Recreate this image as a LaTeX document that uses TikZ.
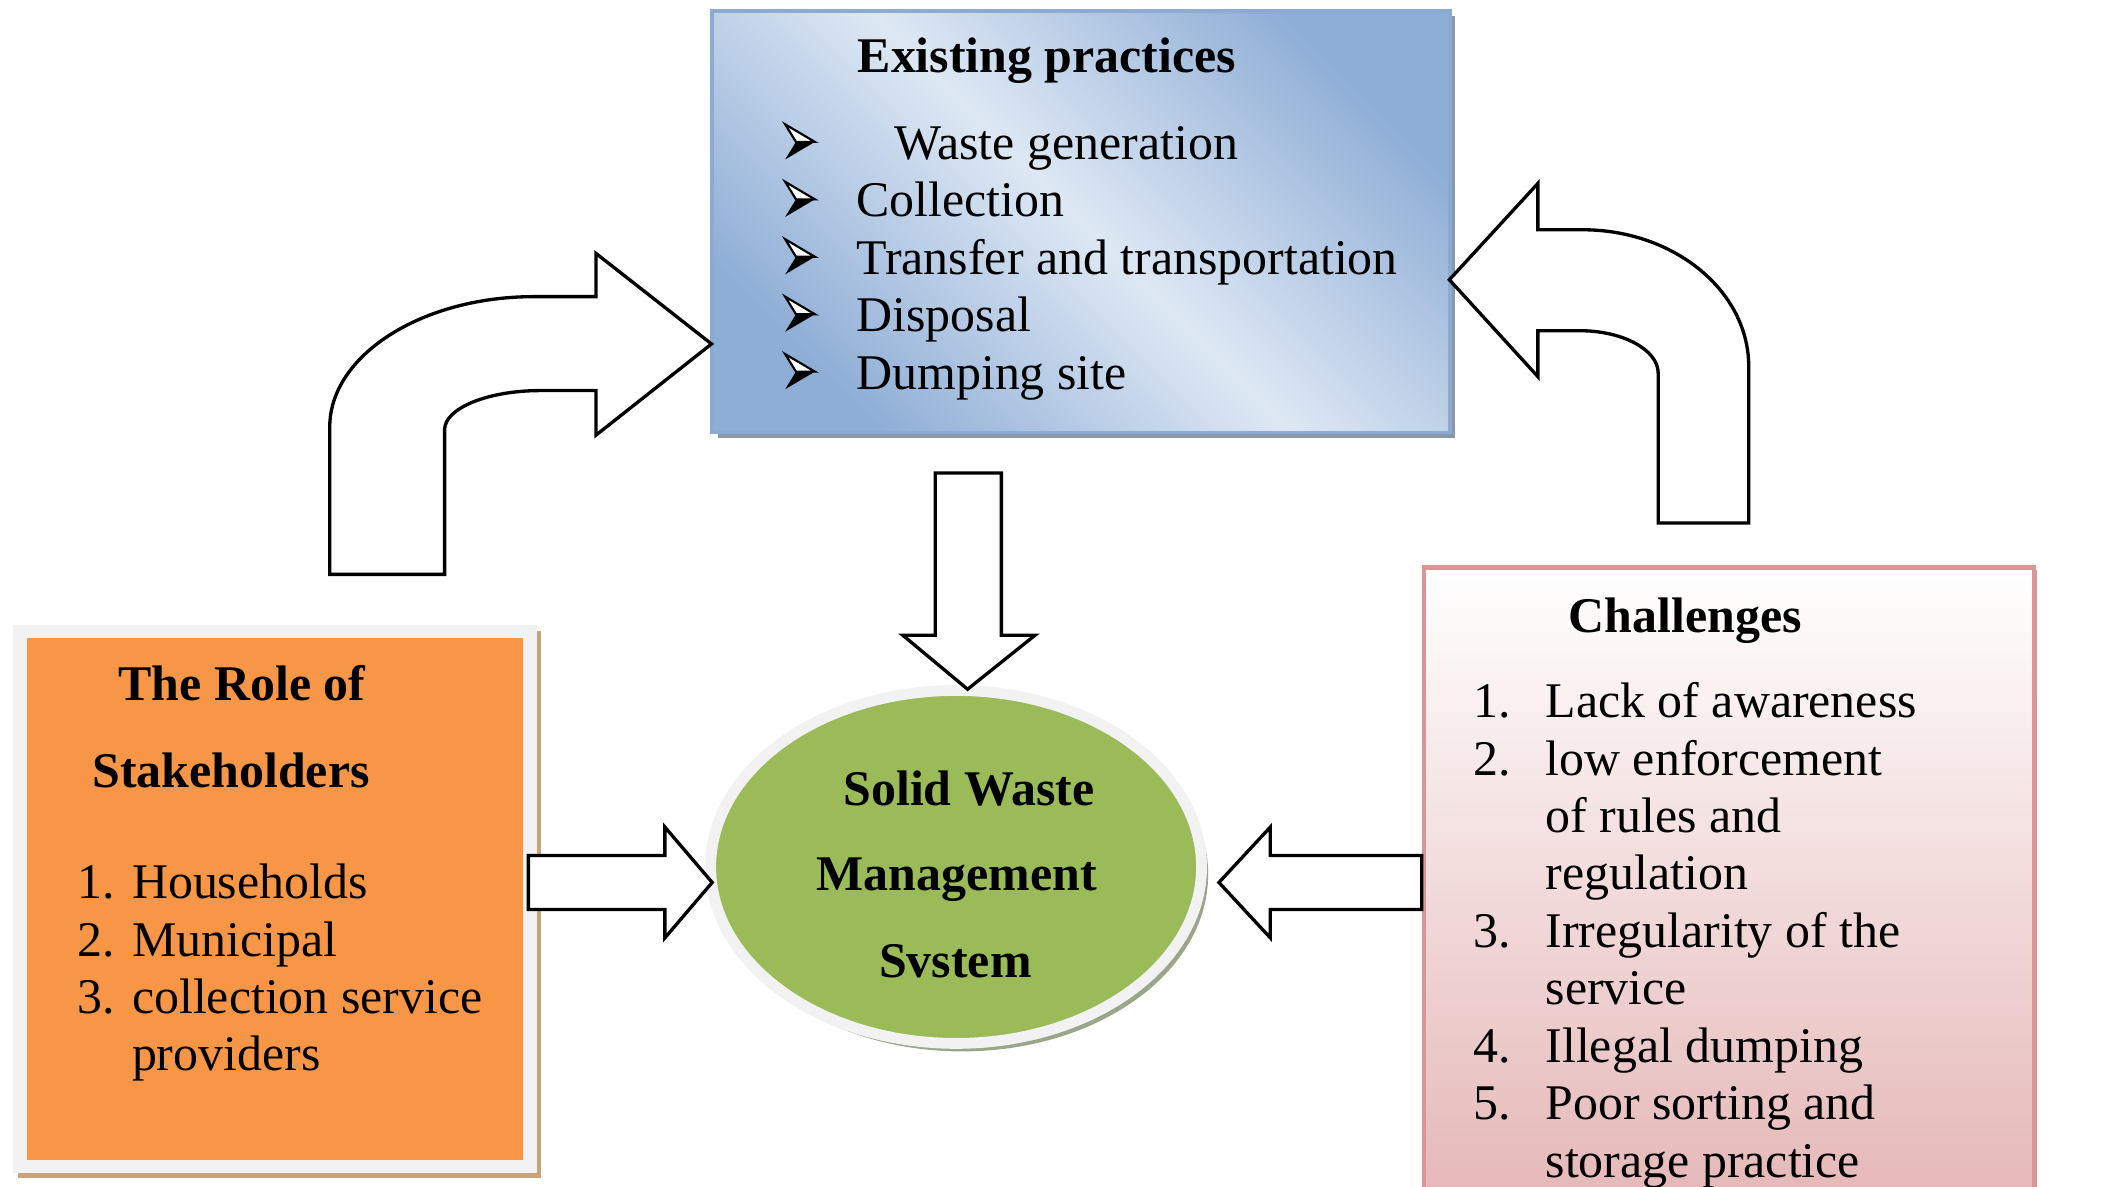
\documentclass[tikz,border=0pt]{standalone}
\usepackage{fontspec}
\setmainfont{Liberation Serif}
\usepackage{tikz}
\usetikzlibrary{shapes.geometric, positioning, calc}
\definecolor{exlight}{RGB}{222,232,244}
\definecolor{exdark}{RGB}{143,174,214}
\definecolor{exborder}{RGB}{140,170,210}
\definecolor{exshadow}{RGB}{140,152,170}
\definecolor{storange}{RGB}{247,150,70}
\definecolor{stframe}{RGB}{242,242,242}
\definecolor{stshadow}{RGB}{201,162,126}
\definecolor{chpink}{RGB}{229,182,182}
\definecolor{chborder}{RGB}{217,150,148}
\definecolor{chshadow}{RGB}{200,160,160}
\definecolor{swgreen}{RGB}{155,187,89}
\definecolor{swrim}{RGB}{242,242,242}
\definecolor{swshadow}{RGB}{154,165,138}
\tikzset{
  txt/.style={font=\fontsize{10.5}{12}\selectfont, inner sep=0pt, anchor=base west},
  ttl/.style={txt, font=\fontsize{10.5}{12}\selectfont\bfseries},
  exbox/.style={rectangle, draw=exborder, line width=0.8pt, inner sep=0pt,
    left color=exdark, right color=exdark, middle color=exlight, shading angle=135},
  stbox/.style={rectangle, fill=storange, draw=stframe, line width=0.1cm, inner sep=0pt},
  chbox/.style={rectangle, draw=chborder, line width=1pt, inner sep=0pt,
    top color=white, bottom color=chpink},
  swell/.style={ellipse, fill=swgreen, draw=swrim, line width=0.08cm, inner sep=0pt},
  blkarrow/.style={draw=black, fill=white, line width=0.7pt, line join=miter},
  bulup/.style={draw=black, fill=white, line width=0.45pt, line join=miter},
  buldown/.style={fill=black}
}
\begin{document}
\begin{tikzpicture}[x=0.01cm, y=-0.01cm]
  \useasboundingbox (0,0) rectangle (1568,878);
  \fill[white] (0,0) rectangle (1568,878);
  \clip (0,0) rectangle (1568,878);

  % existing practices
  \fill[exshadow] (531,12) rectangle (1077,324);
  \node[exbox, minimum width=5.46cm, minimum height=3.12cm] (exist) at (800,164) {};
  \node[ttl] (exist-t) at (634,54) {Existing practices};
  \foreach \dx/\t [count=\i from 0] in {28/Waste generation, 0/Collection,
      0/Transfer and transportation, 0/Disposal, 0/Dumping site} {
    \coordinate (exb-\i) at (581,118+42.5*\i);
    \draw[bulup] ($(exb-\i)+(0,-26)$) -- ++(22,13) -- ++(-14,0) -- cycle;
    \fill[buldown] ($(exb-\i)+(8,-13)$) -- ++(14,0) -- ++(-22,13) -- cycle;
    \node[txt] (exi-\i) at (633+\dx,118+42.5*\i) {\t};
  }

  % stakeholders
  \fill[stshadow] (13,467) rectangle (400,872);
  \node[stbox, minimum width=3.77cm, minimum height=3.955cm] (stake) at (203.5,665.3) {};
  \node[ttl, anchor=base] (stake-t1) at (179,518) {The Role of};
  \node[ttl, anchor=base] (stake-t2) at (171,583) {Stakeholders};
  \foreach \n/\t [count=\i from 0] in {1./Households, 2./Municipal,
      3./collection service, /providers} {
    \node[txt] (stn-\i) at (57,665+42.5*\i) {\n};
    \node[txt] (sti-\i) at (97,665+42.5*\i) {\t};
  }

  % challenges
  \fill[chshadow] (1056,422) rectangle (1507,900);
  \node[chbox, minimum width=4.51cm, minimum height=4.8cm, anchor=north west] (chall) at (1052,418) {};
  \node[ttl, anchor=base] (chall-t) at (1247,468) {Challenges};
  \foreach \n/\t [count=\i from 0] in {1./Lack of awareness, 2./low enforcement,
      /of rules and, /regulation, 3./Irregularity of the, /service,
      4./Illegal dumping, 5./Poor sorting and, /storage practice} {
    \node[txt] (chn-\i) at (1090,531+42.5*\i) {\n};
    \node[txt] (chi-\i) at (1143,531+42.5*\i) {\t};
  }

  % solid waste management system
  \fill[swshadow] (712,647) ellipse (182 and 131);
  \node[swell, minimum width=3.63cm, minimum height=2.61cm] (sws) at (707.5,641.5) {};
  \node[ttl, anchor=base] (sws-1) at (717,596) {Solid Waste};
  \node[ttl, anchor=base] (sws-2) at (708,659) {Management};
  \node[ttl, anchor=base] (sws-3) at (707,723) {Svstem};

  % block arrows
  \draw[blkarrow] (692,350) -- (741,350) -- (741,470) -- (766,470) -- (716,510)
    -- (668,470) -- (692,470) -- cycle;
  \draw[blkarrow] (391,633) -- (492,633) -- (492,612) -- (527,653) -- (492,694)
    -- (492,673) -- (391,673) -- cycle;
  \draw[blkarrow] (1052,633) -- (940,633) -- (940,612) -- (902,653) -- (940,694)
    -- (940,673) -- (1052,673) -- cycle;
  \draw[blkarrow] (244,425) -- (244,316) .. controls (244,263) and (312,219.5) .. (395,219.5)
    -- (441,219.5) -- (441,187.5) -- (526.5,254.5) -- (441,322) -- (441,289) -- (400,289)
    .. controls (361,289) and (329,302) .. (329,318) -- (329,425) -- cycle;
  \draw[blkarrow] (1072.5,207) -- (1138,135.7) -- (1138,170) -- (1171,170)
    .. controls (1239,170) and (1294,215.5) .. (1294,271) -- (1294,387) -- (1227,387)
    -- (1227,276) .. controls (1227,259) and (1201,244.7) .. (1169,244.7)
    -- (1138,244.7) -- (1138,278.7) -- cycle;
\end{tikzpicture}
\end{document}
